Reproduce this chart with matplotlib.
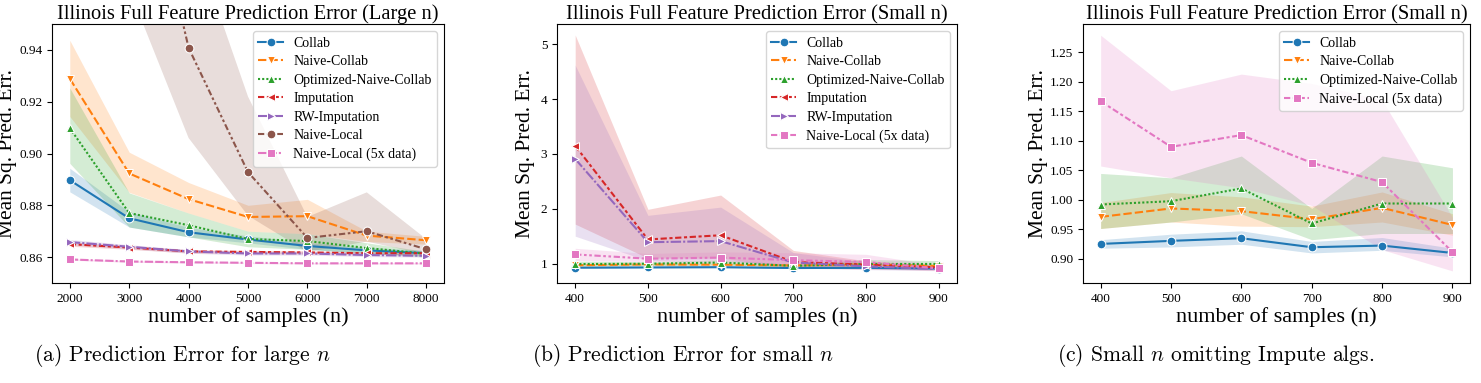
import matplotlib
matplotlib.use("Agg")
import matplotlib.pyplot as plt

plt.rcParams['font.family'] = ['Liberation Serif', 'DejaVu Serif']
plt.rcParams['mathtext.fontset'] = 'cm'

# ---- (a) large n ----
n_large = [2000, 3000, 4000, 5000, 6000, 7000, 8000]
a_collab = [0.8897, 0.8750, 0.8696, 0.8668, 0.8643, 0.8626, 0.8615]
a_collab_lo = [0.8852, 0.8716, 0.8678, 0.8655, 0.8630, 0.8614, 0.8605]
a_collab_hi = [0.8943, 0.8775, 0.8715, 0.8682, 0.8656, 0.8638, 0.8625]
a_naive = [0.9289, 0.8923, 0.8824, 0.8755, 0.8758, 0.8683, 0.8665]
a_naive_lo = [0.9143, 0.8850, 0.8770, 0.8700, 0.8690, 0.8660, 0.8650]
a_naive_hi = [0.9437, 0.9005, 0.8888, 0.8800, 0.8823, 0.8700, 0.8680]
a_opt = [0.9098, 0.8770, 0.8723, 0.8670, 0.8662, 0.8635, 0.8613]
a_opt_lo = [0.8962, 0.8716, 0.8678, 0.8640, 0.8630, 0.8615, 0.8600]
a_opt_hi = [0.9253, 0.8848, 0.8770, 0.8700, 0.8690, 0.8655, 0.8622]
a_imp = [0.8650, 0.8637, 0.8622, 0.8620, 0.8618, 0.8615, 0.8615]
a_imp_lo = [0.8642, 0.8630, 0.8616, 0.8614, 0.8612, 0.8610, 0.8610]
a_imp_hi = [0.8658, 0.8644, 0.8628, 0.8626, 0.8624, 0.8620, 0.8620]
a_rw = [0.8658, 0.8640, 0.8622, 0.8614, 0.8614, 0.8608, 0.8605]
a_rw_lo = [0.8648, 0.8632, 0.8615, 0.8608, 0.8608, 0.8602, 0.8600]
a_rw_hi = [0.8668, 0.8648, 0.8629, 0.8620, 0.8620, 0.8614, 0.8610]
a_local = [1.25, 1.04, 0.9408, 0.8928, 0.8674, 0.8700, 0.8630]
a_local_lo = [1.10, 0.9635, 0.9060, 0.8760, 0.8620, 0.8660, 0.8610]
a_local_hi = [1.40, 1.15, 0.988, 0.9220, 0.8755, 0.8850, 0.8670]
a_local5 = [0.8591, 0.8583, 0.8580, 0.8578, 0.8576, 0.8576, 0.8576]
a_local5_lo = [0.8588, 0.8580, 0.8577, 0.8575, 0.8573, 0.8573, 0.8573]
a_local5_hi = [0.8594, 0.8586, 0.8583, 0.8581, 0.8579, 0.8579, 0.8579]

# ---- (b)/(c) small n ----
n_small = [400, 500, 600, 700, 800, 900]
s_collab = [0.9248, 0.9300, 0.9345, 0.9192, 0.9220, 0.9095]
s_collab_lo = [0.9175, 0.9197, 0.9243, 0.9095, 0.9140, 0.9028]
s_collab_hi = [0.9320, 0.9413, 0.9470, 0.9290, 0.9357, 0.9175]
s_naive = [0.9707, 0.9850, 0.9804, 0.9668, 0.9860, 0.9570]
s_naive_lo = [0.9510, 0.9620, 0.9550, 0.9540, 0.9620, 0.9396]
s_naive_hi = [0.9950, 1.0120, 1.0047, 0.9890, 1.0130, 0.9760]
s_opt = [0.9917, 0.9973, 1.0190, 0.9595, 0.9934, 0.9934]
s_opt_lo = [0.9510, 0.9620, 0.9760, 0.9320, 0.9425, 0.9425]
s_opt_hi = [1.0444, 1.0370, 1.0740, 0.9850, 1.0740, 1.0540]
s_local5 = [1.1670, 1.0896, 1.1095, 1.0625, 1.0297, 0.9110]
s_local5_lo = [1.0570, 1.0370, 1.0200, 0.9900, 0.9150, 0.8790]
s_local5_hi = [1.2790, 1.1848, 1.2130, 1.1970, 1.1690, 0.9700]
s_imp = [3.148, 1.440, 1.517, 1.030, 0.980, 0.930]
s_imp_lo = [1.72, 1.10, 1.10, 0.93, 0.90, 0.88]
s_imp_hi = [5.17, 1.99, 2.25, 1.24, 1.05, 0.97]
s_rw = [2.91, 1.39, 1.41, 1.02, 0.95, 0.90]
s_rw_lo = [1.50, 1.05, 1.08, 0.92, 0.89, 0.87]
s_rw_hi = [4.62, 1.88, 2.03, 1.20, 1.03, 0.96]

colors = {"Collab": "#1f77b4", "Naive-Collab": "#ff7f0e",
          "Optimized-Naive-Collab": "#2ca02c", "Imputation": "#d62728",
          "RW-Imputation": "#9467bd", "Naive-Local": "#8c564b",
          "Naive-Local (5x data)": "#e377c2"}
markers = {"Collab": "o", "Naive-Collab": "v", "Optimized-Naive-Collab": "^",
           "Imputation": "<", "RW-Imputation": ">", "Naive-Local": "o",
           "Naive-Local (5x data)": "s"}
# seaborn's default dash sequence
dash_seq = [None, (4, 1.5), (1, 1), (3, 1.25, 1.5, 1.25), (5, 1, 1, 1),
            (3, 1.25, 1.25, 1.25, 1.25, 1.25), (4, 1, 4, 1, 1, 1)]


def draw(ax, x, series, title, xlim, ylim, yticks, yfmt, ylab_x):
    for i, (name, y, lo, hi) in enumerate(series):
        c = colors[name]
        ax.fill_between(x, lo, hi, color=c, alpha=0.2, linewidth=0)
        line, = ax.plot(x, y, color=c, marker=markers[name], markersize=6.3,
                        markeredgecolor="white", markeredgewidth=0.75,
                        linewidth=1.5, label=name)
        if dash_seq[i] is not None:
            line.set_dashes(dash_seq[i])
    ax.set_xlim(*xlim)
    ax.set_ylim(*ylim)
    ax.set_xticks(x)
    ax.set_yticks(yticks)
    ax.set_yticklabels([yfmt.format(v) for v in yticks])
    ax.tick_params(labelsize=9.5, length=3.5, width=0.8)
    ax.set_title(title, fontsize=14.8, pad=3)
    ax.set_xlabel("number of samples (n)", fontsize=16, labelpad=2)
    ax.set_ylabel("Mean Sq. Pred. Err.", fontsize=15.5)
    ax.yaxis.set_label_coords(ylab_x, 0.5)
    ax.legend(loc="upper right", fontsize=10, framealpha=0.8,
              handlelength=1.8, handletextpad=0.7, borderpad=0.4,
              labelspacing=0.4)


fig = plt.figure(figsize=(14.81, 3.83), dpi=100)
ax1 = fig.add_axes([0.0351, 0.2611, 0.2647, 0.6762])
ax2 = fig.add_axes([0.3761, 0.2611, 0.2701, 0.6762])
ax3 = fig.add_axes([0.7313, 0.2611, 0.2613, 0.6762])

draw(ax1, n_large, [
    ("Collab", a_collab, a_collab_lo, a_collab_hi),
    ("Naive-Collab", a_naive, a_naive_lo, a_naive_hi),
    ("Optimized-Naive-Collab", a_opt, a_opt_lo, a_opt_hi),
    ("Imputation", a_imp, a_imp_lo, a_imp_hi),
    ("RW-Imputation", a_rw, a_rw_lo, a_rw_hi),
    ("Naive-Local", a_local, a_local_lo, a_local_hi),
    ("Naive-Local (5x data)", a_local5, a_local5_lo, a_local5_hi),
], "Illinois Full Feature Prediction Error (Large n)",
    (1700, 8300), (0.85, 0.95), [0.86, 0.88, 0.90, 0.92, 0.94], "{:.2f}", -0.088)

draw(ax2, n_small, [
    ("Collab", s_collab, s_collab_lo, s_collab_hi),
    ("Naive-Collab", s_naive, s_naive_lo, s_naive_hi),
    ("Optimized-Naive-Collab", s_opt, s_opt_lo, s_opt_hi),
    ("Imputation", s_imp, s_imp_lo, s_imp_hi),
    ("RW-Imputation", s_rw, s_rw_lo, s_rw_hi),
    ("Naive-Local (5x data)", s_local5, s_local5_lo, s_local5_hi),
], "Illinois Full Feature Prediction Error (Small n)",
    (375, 925), (0.646, 5.37), [1, 2, 3, 4, 5], "{:d}", -0.055)

draw(ax3, n_small, [
    ("Collab", s_collab, s_collab_lo, s_collab_hi),
    ("Naive-Collab", s_naive, s_naive_lo, s_naive_hi),
    ("Optimized-Naive-Collab", s_opt, s_opt_lo, s_opt_hi),
    ("Naive-Local (5x data)", s_local5, s_local5_lo, s_local5_hi),
], "Illinois Full Feature Prediction Error (Small n)",
    (375, 925), (0.8585, 1.298), [0.90, 0.95, 1.00, 1.05, 1.10, 1.15, 1.20, 1.25],
    "{:.2f}", -0.09)

cap = dict(fontsize=15.5, family='cmr10', ha='center', va='center')
fig.text(182 / 1481, 0.073, r"(a) Prediction Error for large $n$", **cap)
fig.text(683 / 1481, 0.073, r"(b) Prediction Error for small $n$", **cap)
fig.text(1216 / 1481, 0.073, r"(c) Small $n$ omitting Impute algs.", **cap)

fig.savefig("out.png", dpi=100)
